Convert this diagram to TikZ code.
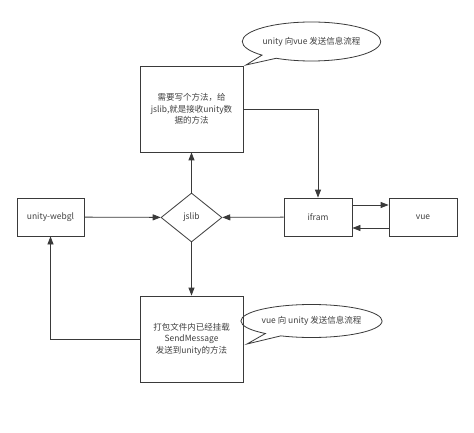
\documentclass[tikz,border=0pt]{standalone}
\usepackage{fontspec}
\setmainfont{Noto Sans CJK SC}
\usetikzlibrary{shapes.geometric,shapes.callouts,arrows.meta}
\definecolor{ln}{HTML}{3A3A3A}
\definecolor{txt}{HTML}{404040}
\begin{document}
\begin{tikzpicture}[x=1pt,y=-1pt,
  font=\fontsize{8.5}{11.5}\selectfont, text=txt, line width=0.8pt,
  box/.style={draw=ln, rectangle, align=center, inner sep=0pt},
  bigbox/.style={box, minimum width=103pt, minimum height=86pt},
  smallbox/.style={box, minimum width=68pt, minimum height=38pt},
  bubble/.style={ellipse callout, draw=ln, align=center, inner sep=0pt},
  arr/.style={draw=ln, -{Triangle[length=8pt,width=6pt]}}]
\useasboundingbox (0,0) rectangle (474,433);
\fill[white] (0,0) rectangle (474,433);

\node[bigbox] (top) at (191.5,109) {需要写个方法，给\\jslib,就是接收unity数\\据的方法};
\node[smallbox, minimum width=67pt] (uw) at (50.5,217) {unity-webgl};
\node[diamond, draw=ln, minimum width=61pt, minimum height=49pt, inner sep=0pt] (js) at (191.5,217.5) {jslib};
\node[smallbox] (ifr) at (318,217) {ifram};
\node[smallbox] (vue) at (423,217) {vue};
\node[bigbox] (bot) at (191.5,339) {打包文件内已经挂载\\SendMessage\\发送到unity的方法};

\node[bubble, minimum width=133pt, minimum height=39pt, callout absolute pointer={(246,65)}] (c1) at (311.5,41.5) {unity 向vue 发送信息流程};
\node[bubble, minimum width=131pt, minimum height=33pt, callout absolute pointer={(247,344)}] (c2) at (311.5,321) {vue 向 unity 发送信息流程};

\draw[arr] (uw) -- (js);
\draw[arr] (ifr) -- (js);
\draw[arr] (js) -- (top);
\draw[arr] (js) -- (bot);
\draw[arr] (top.east) -| (ifr.north);
\draw[arr] ([yshift=12pt]ifr.east) -- ([yshift=12pt]vue.west);
\draw[arr] ([yshift=-11pt]vue.west) -- ([yshift=-11pt]ifr.east);
\draw[arr] (bot.west) -| (uw.south);
\end{tikzpicture}
\end{document}
